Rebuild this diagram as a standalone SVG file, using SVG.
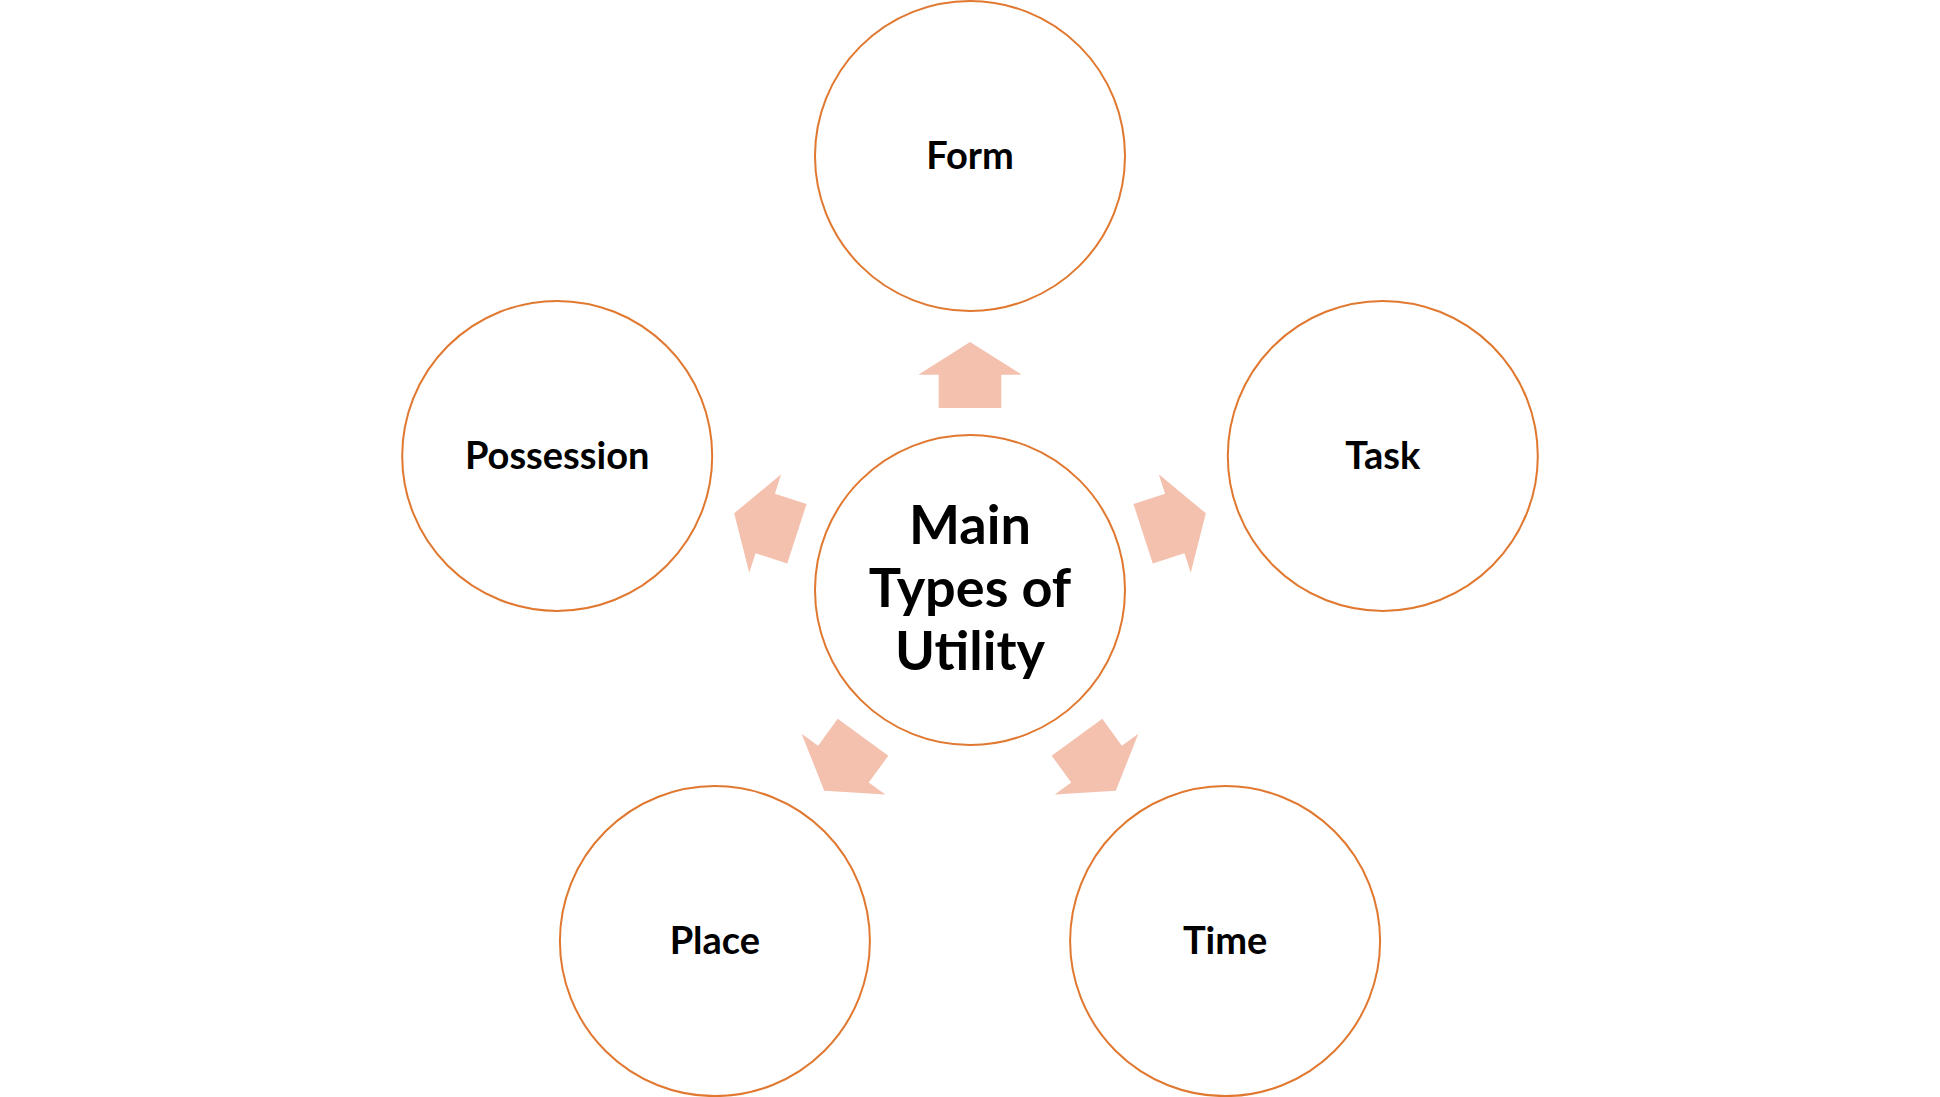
<svg xmlns="http://www.w3.org/2000/svg" width="1940" height="1097" viewBox="0 0 1940 1097">
<defs>
<style>
.node{fill:#FFFFFF;stroke:#E07830;stroke-width:2}
.lbl{font-family:Lato,"Open Sans","Liberation Sans",sans-serif;font-weight:bold;font-size:38px;fill:#000000;text-anchor:middle}
.main{font-family:Lato,"Open Sans","Liberation Sans",sans-serif;font-weight:bold;font-size:54px;fill:#000000;text-anchor:middle}
.arr{fill:#F4C1AF;stroke:none}
</style>
<path id="arrowShape" class="arr" d="M970,342 L1021.7,374.7 L1001.3,374.7 L1001.3,408 L938.7,408 L938.7,374.7 L918.3,374.7 Z"/>
</defs>
<rect width="1940" height="1097" fill="#FFFFFF"/>
<g id="connectors">
<use href="#arrowShape"/>
<use href="#arrowShape" transform="rotate(72 970 590)"/>
<use href="#arrowShape" transform="rotate(144 970 590)"/>
<use href="#arrowShape" transform="rotate(216 970 590)"/>
<use href="#arrowShape" transform="rotate(288 970 590)"/>
</g>
<g id="node-center">
<circle class="node" cx="970" cy="590" r="155"/>
<text class="main" x="970" y="544">Main</text>
<text class="main" x="970" y="607">Types of</text>
<text class="main" x="970" y="670">Utility</text>
</g>
<g id="node-form">
<circle class="node" cx="970" cy="156" r="155"/>
<text class="lbl" x="970" y="169">Form</text>
</g>
<g id="node-task">
<circle class="node" cx="1382.8" cy="455.9" r="155"/>
<text class="lbl" x="1382.8" y="469">Task</text>
</g>
<g id="node-time">
<circle class="node" cx="1225.1" cy="941.1" r="155"/>
<text class="lbl" x="1225.1" y="954">Time</text>
</g>
<g id="node-place">
<circle class="node" cx="714.9" cy="941.1" r="155"/>
<text class="lbl" x="714.9" y="954">Place</text>
</g>
<g id="node-possession">
<circle class="node" cx="557.2" cy="455.9" r="155"/>
<text class="lbl" x="557.2" y="469">Possession</text>
</g>
</svg>
